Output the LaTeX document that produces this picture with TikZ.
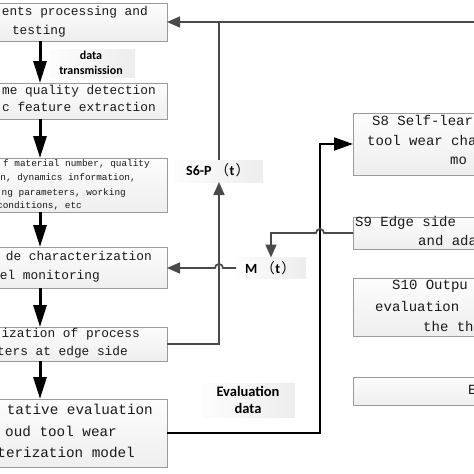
\documentclass[tikz,border=0pt]{standalone}
\usepackage{fontspec}
\usetikzlibrary{arrows.meta,shadows}
\newfontfamily\boxfont{Liberation Mono}
\newfontfamily\labfont{Carlito}
\newfontfamily\cjk{Noto Sans CJK SC}
\definecolor{lineg}{HTML}{4A4A4A}
\definecolor{edgeg}{HTML}{9A9A9A}
% bracketed time argument with full-width parentheses
\newcommand{\targ}[1]{\hspace{3.5pt}{\cjk\mdseries （}\hspace{0.5pt}#1\hspace{1pt}{\cjk\mdseries ）}}

\tikzset{
  stepbox/.style={draw=edgeg, line width=0.9pt, top color=gray!2, bottom color=gray!13,
    drop shadow={shadow xshift=1.2pt, shadow yshift=-1.2pt, opacity=0.22},
    inner sep=0pt, outer sep=0pt},
  tagbox/.style={left color=gray!2, right color=gray!14, inner sep=0pt, outer sep=0pt},
  ltxt/.style={anchor=mid east, inner sep=0pt, text=black!90,
    font=\boxfont\fontsize{12.8}{15}\selectfont},
  bigtxt/.style={ltxt, font=\boxfont\fontsize{14.3}{17}\selectfont},
  smalltxt/.style={ltxt, font=\boxfont\fontsize{9.4}{11}\selectfont},
  rtxt/.style={anchor=mid west, inner sep=0pt, text=black!90,
    font=\boxfont\fontsize{14}{16}\selectfont},
  tagtxt/.style={inner sep=0pt, font=\labfont\bfseries\fontsize{14}{16}\selectfont},
  gline/.style={draw=lineg, line width=1.7pt},
  kline/.style={draw=black, line width=1.9pt},
  flow/.style={draw=black, line width=3pt, -{Triangle[length=22pt,width=13pt]}},
  gtip/.style={-{Triangle[length=13pt,width=11pt]}},
}

\begin{document}
\begin{tikzpicture}[x=1pt,y=-1pt]
\useasboundingbox (0,0) rectangle (474,474);
\clip (0,0) rectangle (474,474);

% left column of process steps
\node[stepbox, minimum width=254pt, minimum height=38pt] (b1) at (40,22) {};
\node[stepbox, minimum width=254pt, minimum height=36pt] (b2) at (40,101) {};
\node[stepbox, minimum width=254pt, minimum height=54pt] (b3) at (40,185) {};
\node[stepbox, minimum width=254pt, minimum height=41pt] (b4) at (40,267.5) {};
\node[stepbox, minimum width=254pt, minimum height=34pt] (b5) at (40,344) {};
\node[stepbox, minimum width=254pt, minimum height=68pt] (b6) at (40,433) {};

\node[ltxt] (b1a) at (148,13) {ents processing and};
\node[ltxt] (b1b) at (66,32) {testing};
\node[ltxt] (b2a) at (156,92) {me quality detection};
\node[ltxt] (b2b) at (156,109.5) {c feature extraction};
\node[smalltxt] (b3a) at (150,164) {f material number, quality};
\node[smalltxt] (b3b) at (136,178.5) {n, dynamics information,};
\node[smalltxt] (b3c) at (126,193) {ng parameters, working};
\node[smalltxt] (b3d) at (82,206.5) {conditions, etc};
\node[ltxt] (b4a) at (152,258) {de characterization};
\node[ltxt] (b4b) at (100,277) {el monitoring};
\node[ltxt] (b5a) at (140,335) {ization of process};
\node[ltxt] (b5b) at (128,353) {ters at edge side};
\node[bigtxt] (b6a) at (153,412) {tative evaluation};
\node[bigtxt] (b6b) at (117,434) {oud tool wear};
\node[bigtxt] (b6c) at (135,455) {cterization model};

% right column
\node[stepbox, minimum width=247pt, minimum height=62pt] (s8) at (476.5,144) {};
\node[stepbox, minimum width=247pt, minimum height=32pt] (s9) at (476.5,233) {};
\node[stepbox, minimum width=247pt, minimum height=58pt] (s10) at (476.5,307) {};
\node[stepbox, minimum width=247pt, minimum height=28pt] (s11) at (476.5,391) {};

\node[rtxt] (s8a) at (372,123) {S8 Self-lear};
\node[rtxt] (s8b) at (367,143) {tool wear cha};
\node[rtxt] (s8c) at (450,162) {mo};
\node[rtxt] (s9a) at (355,224) {S9 Edge side};
\node[rtxt] (s9b) at (418,243) {and ada};
\node[rtxt] (s10a) at (392,287) {S10 Outpu};
\node[rtxt] (s10b) at (375,309) {evaluation};
\node[rtxt] (s10c) at (423,329) {the th};
\node[rtxt] (s11a) at (468,392) {E};

% data labels
\node[tagbox, minimum width=85pt, minimum height=28pt] (dt) at (92.5,63.5) {};
\node[tagtxt, font=\labfont\bfseries\fontsize{12}{14.5}\selectfont, align=center] (dtt) at (91,63) {data\\transmission};
\node[tagbox, minimum width=88pt, minimum height=22pt] (s6p) at (219,171) {};
\node[tagtxt, anchor=west] (s6pt) at (186,170.5) {S6-P\targ{t}};
\node[tagbox, minimum width=70pt, minimum height=21pt] (mt) at (271,268) {};
\node[tagtxt, anchor=west] (mtt) at (245,268) {M\targ{t}};
\node[tagbox, minimum width=92pt, minimum height=34pt] (ev) at (249,400.5) {};
\node[tagtxt, font=\labfont\bfseries\fontsize{14.5}{17.5}\selectfont, align=center] (evt) at (248,400) {Evaluation\\data};

% main flow
\draw[flow] (b1.south) -- (b2.north);
\draw[flow] (b2.south) -- (b3.north);
\draw[flow] (b3.south) -- (b4.north);
\draw[flow] (b4.south) -- (b5.north);
\draw[flow] (b5.south) -- (b6.north);

% feedback to the first step
\coordinate (topin) at (480,22);
\draw[gline, gtip] (topin) -- (b1.east);
\draw[gline] (s6p.north) -- (s6p.north |- b1.east);
\draw[gline, gtip] (b5.east) -| (s6p.south);

% evaluation data to S8
\coordinate (col) at (320,0);
\draw[kline, -{Triangle[length=19pt,width=13pt]}] (b6.east) -| (col |- s8.west) -- (s8.west);

% S9 to M(t), hopping over the evaluation line
\coordinate (hopB) at (col |- s9.west);
\draw[gline, gtip] (s9.west) -- ([xshift=4pt]hopB)
  arc[start angle=0, end angle=180, radius=4pt] -| (mt.north);

% M(t) to edge monitoring, hopping over the S6-P line
\coordinate (hopA) at (s6p.south |- mt.west);
\draw[gline, gtip] (mt.west) -- ([xshift=4pt]hopA)
  arc[start angle=0, end angle=180, radius=4pt] -- (b4.east |- mt.west);
\end{tikzpicture}
\end{document}
